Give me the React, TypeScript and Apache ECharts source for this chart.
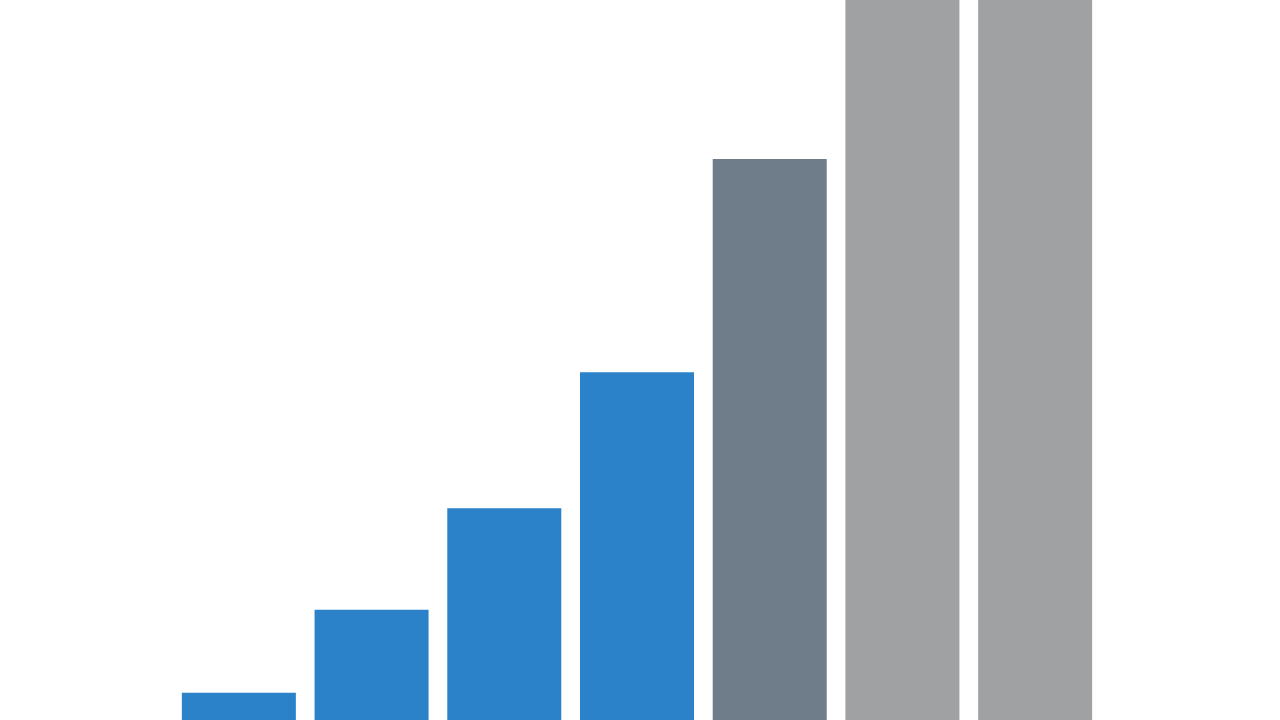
import { useEffect, useRef } from 'react'
import * as echarts from 'echarts'

// seven stages, values in percent of the visible height (last two run off the top)
const categories = ['1', '2', '3', '4', '5', '6', '7']
const values = [3.8, 15.3, 29.4, 48.3, 77.9, 100, 100]
const barColors = ['#2b82c9', '#2b82c9', '#2b82c9', '#2b82c9', '#6f7d8b', '#a0a1a3', '#a0a1a3']

export default function App() {
  const chartRef = useRef<HTMLDivElement>(null)

  useEffect(() => {
    if (!chartRef.current) return
    const chart = echarts.init(chartRef.current, undefined, { renderer: 'svg' })

    const option: echarts.EChartsOption = {
      animation: false,
      backgroundColor: '#ffffff',
      grid: { left: 172.5, width: 929, top: 0, bottom: 0 },
      xAxis: {
        type: 'category',
        data: categories,
        show: false
      },
      yAxis: {
        type: 'value',
        min: 0,
        max: 100,
        show: false
      },
      series: [{
        type: 'bar',
        barWidth: 114,
        data: values.map((v, i) => ({
          value: v,
          itemStyle: { color: barColors[i] }
        }))
      }]
    }

    chart.setOption(option)

    return () => {
      chart.dispose()
    }
  }, [])

  return (
    <div
      ref={chartRef}
      style={{ position: 'absolute', left: 0, top: 0, width: '1280px', height: '720px' }}
    />
  )
}
